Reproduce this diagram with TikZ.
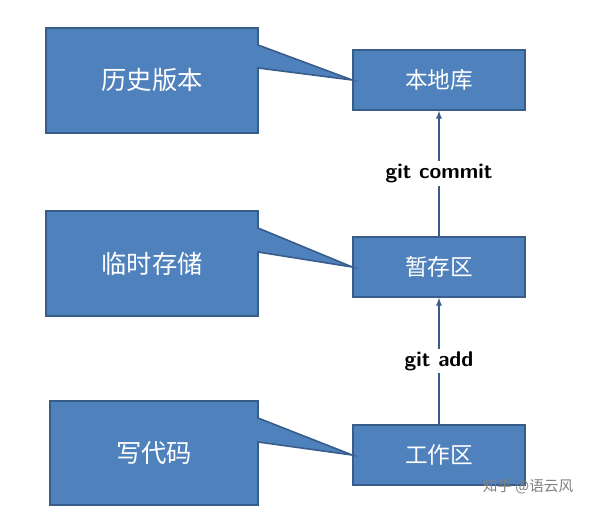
\documentclass[tikz,border=0pt]{standalone}
\usepackage{fontspec}
\newfontfamily\cjk{Noto Sans CJK SC}
\definecolor{bfill}{HTML}{4F81BD}
\definecolor{bline}{HTML}{385D8A}
\begin{document}
\begin{tikzpicture}[x=0.75pt,y=-0.75pt,
  box/.style={draw=bline,line width=1.2pt,fill=bfill,minimum width=172*0.75pt,minimum height=60*0.75pt,text=white,font=\cjk\fontsize{17}{20}\selectfont,inner sep=0pt},
  call/.style={draw=bline,line width=1.2pt,fill=bfill},
  ctext/.style={text=white,font=\cjk\fontsize{19}{22}\selectfont},
  lab/.style={fill=white,font=\fontsize{16}{19}\selectfont\bfseries\sffamily,inner sep=2pt},
  arr/.style={-latex,draw=bline,line width=1pt}]
\useasboundingbox (0,0) rectangle (600,511);
\node[box] (repo) at (439,80) {本地库};
\node[box] (stage) at (439,267) {暂存区};
\node[box] (work) at (439,455) {工作区};
\draw[call] (46,28)--(258,28)--(258,45)--(repo.west)--(258,68)--(258,133)--(46,133)--cycle;
\node[ctext] (c1) at (152,80) {历史版本};
\draw[call] (46,211)--(258,211)--(258,228)--(stage.west)--(258,252)--(258,316)--(46,316)--cycle;
\node[ctext] (c2) at (152,264) {临时存储};
\draw[call] (50,401)--(258,401)--(258,418)--(work.west)--(258,442)--(258,505)--(50,505)--cycle;
\node[ctext] (c3) at (154,453) {写代码};
\draw[arr] (stage.north) -- node[lab] {git commit} (repo.south);
\draw[arr] (work.north) -- node[lab] {git add} (stage.south);
\node[text=gray,font=\cjk\fontsize{11}{13}\selectfont] (wm) at (528,487) {知乎 @语云风};
\end{tikzpicture}
\end{document}
